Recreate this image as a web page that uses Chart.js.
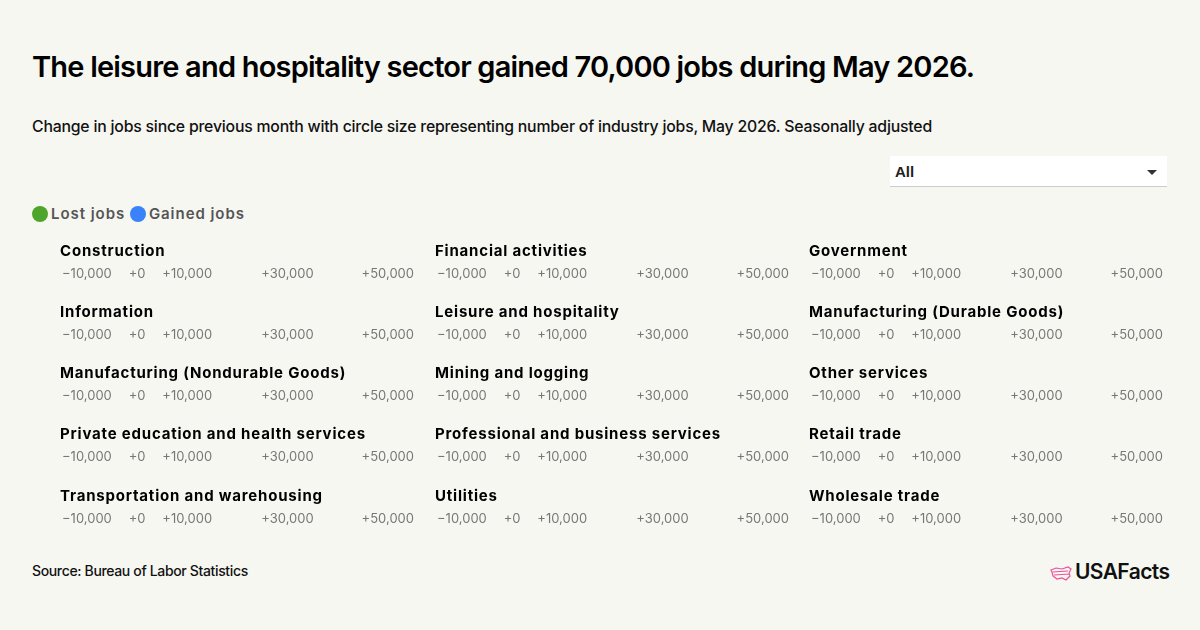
<!DOCTYPE html>
<html>
<head>
<meta charset="utf-8">
<script src="https://cdn.jsdelivr.net/npm/chart.js@4.4.1/dist/chart.umd.min.js"></script>
<style>
  body { margin: 0; background: #f7f7f2; font-family: Inter, "Noto Sans", sans-serif; }
  #page { position: relative; width: 1200px; height: 630px; overflow: hidden; }
  h1 { position: absolute; left: 32px; top: 49px; margin: 0; font-size: 29px; font-weight: 600; letter-spacing: -0.8px; color: #000; }
  .sub { position: absolute; left: 32px; top: 117px; font-size: 15.8px; font-weight: 500; color: #111; letter-spacing: -0.2px; }
  .select { position: absolute; left: 890px; top: 156px; width: 277px; height: 30px; background: #fff; border-bottom: 1px solid #ccc; }
  .select span { position: absolute; left: 5px; top: 7px; font-size: 15px; font-weight: 700; color: #222; font-family: "Liberation Sans", Arial, sans-serif; }
  .select i { position: absolute; right: 10px; top: 14px; width: 0; height: 0; border-left: 5px solid transparent; border-right: 5px solid transparent; border-top: 5px solid #333; }
  .legend { position: absolute; left: 32px; top: 204px; font-size: 15px; font-weight: 600; color: #555; letter-spacing: 0.95px; }
  .legend b { display: inline-block; width: 16px; height: 16px; border-radius: 50%; vertical-align: -3px; margin-right: 3px; }
  .panel { position: absolute; }
  .src { position: absolute; left: 32px; top: 562px; font-size: 14px; font-weight: 500; color: #111; letter-spacing: -0.35px; }
  .logo { position: absolute; left: 1050px; top: 559px; font-size: 21px; font-weight: 600; color: #111; letter-spacing: -0.6px; }
  .logo svg { vertical-align: -3px; margin-right: 3px; }
</style>
</head>
<body>
<div id="page">
  <h1>The leisure and hospitality sector gained 70,000 jobs during May 2026.</h1>
  <div class="sub">Change in jobs since previous month with circle size representing number of industry jobs, May 2026. Seasonally adjusted</div>
  <div class="select"><span>All</span><i></i></div>
  <div class="legend"><b style="background:#4fa52b"></b>Lost jobs <b style="background:#3a82f7"></b>Gained jobs</div>
  <div id="panels"></div>
  <div class="src">Source: Bureau of Labor Statistics</div>
  <div class="logo"><svg width="22" height="16" viewBox="0 0 22 16"><path d="M1 4 L6 2 L12 3 L18 1 L21 3 L19 7 L20 10 L16 14 L12 12 L7 13 L3 10 L2 6 Z M3 6 L18 5 M4 9 L19 8" fill="none" stroke="#ee4f9b" stroke-width="1.2"/></svg>USAFacts</div>
</div>
<script>
const sectors = [
  'Construction', 'Financial activities', 'Government',
  'Information', 'Leisure and hospitality', 'Manufacturing (Durable Goods)',
  'Manufacturing (Nondurable Goods)', 'Mining and logging', 'Other services',
  'Private education and health services', 'Professional and business services', 'Retail trade',
  'Transportation and warehousing', 'Utilities', 'Wholesale trade'
];
const tickValues = [-10000, 0, 10000, 30000, 50000];
const xMin = -10000;
const xMax = 50000;

const colLeft = [60, 435, 809];
const rowTop = [243, 304, 365, 426, 488];

function fmt(v) {
  if (v < 0) return '\u2212' + Math.abs(v).toLocaleString('en-US');
  return '+' + v.toLocaleString('en-US');
}

// panel title drawn with letter spacing (chart.js title has none)
const spacedTitle = {
  id: 'spacedTitle',
  afterDraw(chart, args, opts) {
    const ctx = chart.ctx;
    ctx.save();
    ctx.letterSpacing = '0.8px';
    ctx.font = '700 15px Inter';
    ctx.fillStyle = '#000';
    ctx.textBaseline = 'middle';
    ctx.fillText(opts.text, 0, 8);
    ctx.restore();
  }
};

const holder = document.getElementById('panels');
sectors.forEach((name, i) => {
  const div = document.createElement('div');
  div.className = 'panel';
  div.style.left = colLeft[i % 3] + 'px';
  div.style.top = rowTop[Math.floor(i / 3)] + 'px';
  div.style.width = '356px';
  div.style.height = '58px';
  const cv = document.createElement('canvas');
  div.appendChild(cv);
  holder.appendChild(div);

  new Chart(cv, {
    type: 'bubble',
    data: { datasets: [{ label: name, data: [], backgroundColor: '#3a82f7' }] },
    options: {
      responsive: true,
      maintainAspectRatio: false,
      animation: false,
      layout: { padding: { top: 24 } },
      plugins: {
        legend: { display: false },
        tooltip: { enabled: false },
        title: { display: false },
        spacedTitle: { text: name }
      },
      scales: {
        x: {
          type: 'linear',
          position: 'top',
          min: xMin,
          max: xMax,
          grid: { display: false, drawTicks: false },
          border: { display: false },
          afterBuildTicks: s => { s.ticks = tickValues.map(v => ({ value: v })); },
          ticks: {
            autoSkip: false,
            maxRotation: 0,
            padding: 2,
            color: '#777',
            font: { family: 'Inter', size: 13 },
            callback: v => fmt(v)
          }
        },
        y: { display: false, min: 0, max: 1 }
      }
    },
    plugins: [spacedTitle]
  });
});
</script>
</body>
</html>
